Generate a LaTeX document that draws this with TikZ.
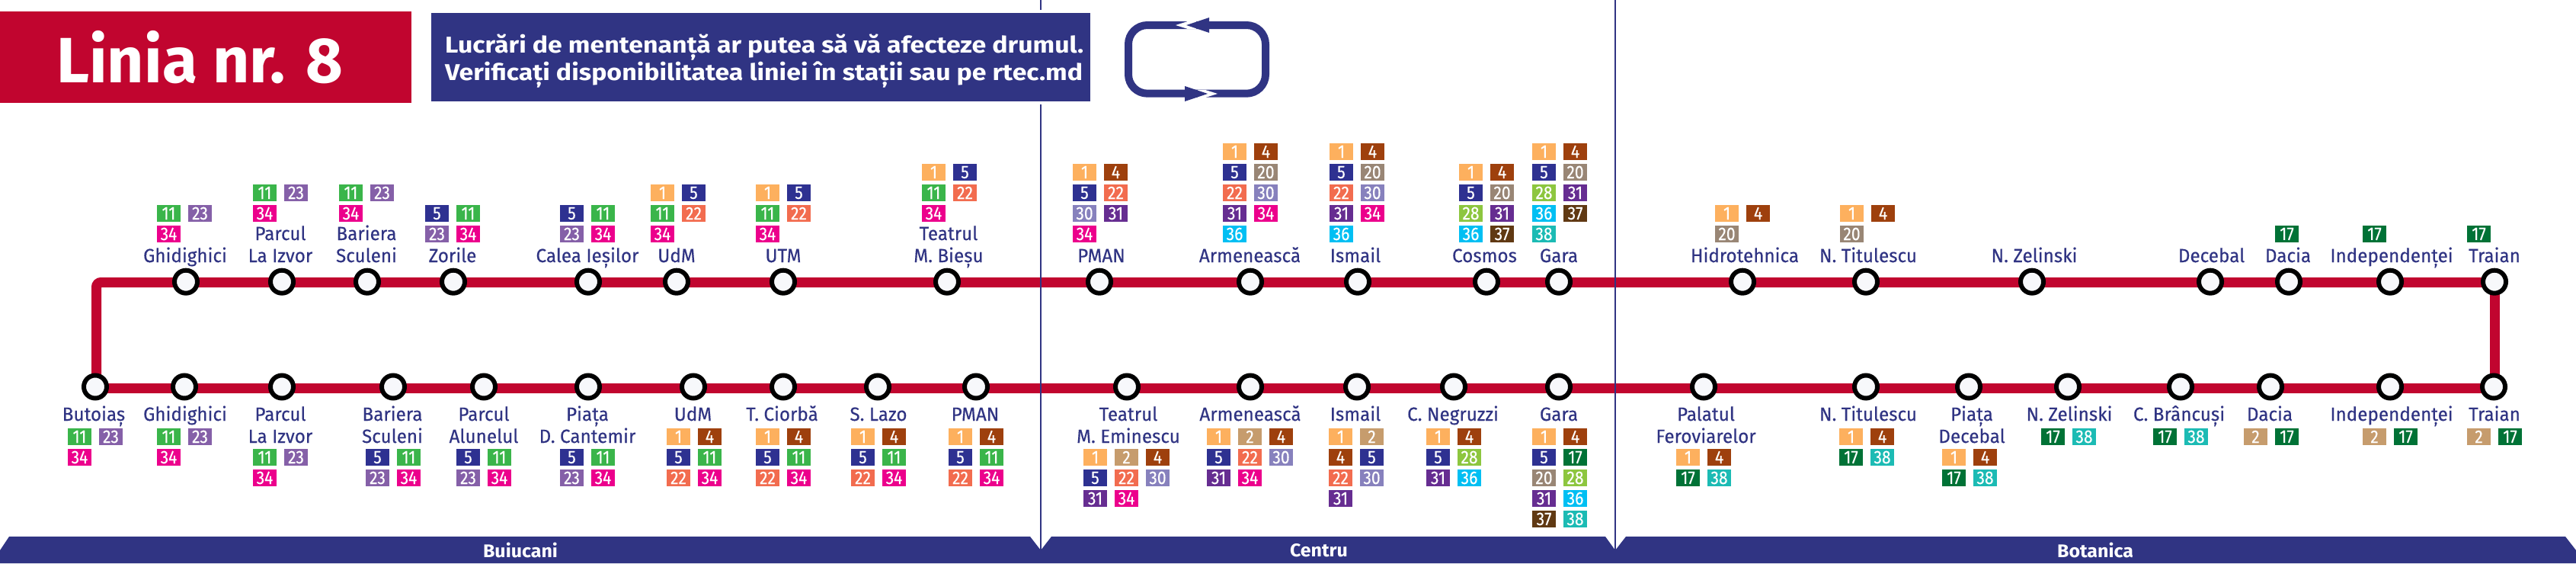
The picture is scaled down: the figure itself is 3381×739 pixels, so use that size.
\documentclass[tikz,border=0pt]{standalone}
\usepackage{fontspec}
\setmainfont{Fira Sans}
\newfontfamily\lblf[FakeStretch=0.97,FakeBold=0.3]{Fira Sans}
\newfontfamily\bdgf[FakeStretch=0.88,FakeBold=0.2]{Fira Sans}
\newfontfamily\zonef[FakeStretch=1.04]{Fira Sans}
\newfontfamily\titlef[FakeStretch=1.0]{Fira Sans}
\newfontfamily\noticef[FakeStretch=1.13]{Fira Sans}
\definecolor{railred}{HTML}{C1052F}
\definecolor{navy}{HTML}{303483}
\definecolor{stopfill}{HTML}{F7F8FB}
\definecolor{c1}{HTML}{FDB05E}
\definecolor{c2}{HTML}{C69C6D}
\definecolor{c4}{HTML}{9E400D}
\definecolor{c5}{HTML}{2E3191}
\definecolor{c11}{HTML}{3AB54A}
\definecolor{c17}{HTML}{007236}
\definecolor{c20}{HTML}{998675}
\definecolor{c22}{HTML}{F26C4F}
\definecolor{c23}{HTML}{8560A8}
\definecolor{c28}{HTML}{8DC63F}
\definecolor{c30}{HTML}{8781BD}
\definecolor{c31}{HTML}{662D91}
\definecolor{c34}{HTML}{EC008C}
\definecolor{c36}{HTML}{00BFF3}
\definecolor{c37}{HTML}{603913}
\definecolor{c38}{HTML}{1CBBB4}
\tikzset{
  rail/.style={draw=railred,line width=13pt,rounded corners=6pt},
  divider/.style={draw=navy,line width=1.8pt},
  stop/.style={circle,draw=black,fill=stopfill,line width=6pt,minimum size=30pt,inner sep=0pt},
  badge/.style={rectangle,minimum width=31pt,minimum height=22pt,inner sep=0pt,text=white,font=\bdgf\fontsize{24}{24}\selectfont},
  lbl/.style={inner sep=0pt,text=navy,align=center,font=\lblf\fontsize{25}{29}\selectfont},
  zone/.style={inner sep=0pt,text=white,font=\zonef\bfseries\fontsize{24}{24}\selectfont},
}
\newcounter{bn}
% x of left column, top y of the row, list of line numbers
\newcommand{\brow}[3]{\foreach \v [count=\i from 0] in {#3} {\stepcounter{bn}\node[badge,fill=c\v] (bd\thebn) at ({#1+41*\i+15.5},{#2+11}) {\v};}}
\begin{document}
\begin{tikzpicture}[x=1pt,y=-1pt]
\useasboundingbox (0,0) rectangle (3381,739);
\fill[white] (0,0) rectangle (3381,739);
% header
\node[rectangle,fill=railred,minimum width=540pt,minimum height=120pt,inner sep=0pt,anchor=north west] (title) at (0,15) {};
\node[anchor=base west,inner sep=0pt,text=white,font=\titlef\bfseries\fontsize{84}{84}\selectfont] (titletext) at (74,108) {Linia nr. 8};
\node[rectangle,fill=navy,minimum width=865pt,minimum height=116pt,inner sep=0pt,anchor=north west] (notice) at (566,17) {};
\node[anchor=base west,inner sep=0pt,text=white,align=left,font=\noticef\bfseries\fontsize{30}{36}\selectfont] (noticetext) at (584,105) {Lucrări de mentenanță ar putea să vă afecteze drumul.\\Verificați disponibilitatea liniei în stații sau pe rtec.md};
% loop icon
\draw[navy,line width=10pt,rounded corners=25pt] (1481,33) rectangle (1661,122.7);
\fill[white] (1543,33) -- (1559,28) -- (1570,28) -- (1570,38) -- (1559,38) -- cycle;
\fill[navy] (1557,33) -- (1587,23) -- (1587,43) -- cycle;
\fill[white] (1598,123) -- (1582,118) -- (1572,118) -- (1572,128) -- (1582,128) -- cycle;
\fill[navy] (1585,123) -- (1555,113) -- (1555,133) -- cycle;
% rail
\coordinate (cTL) at (126.5,370.5);
\coordinate (cTR) at (3274,370.5);
\coordinate (cBR) at (3274,509.5);
\coordinate (cBL) at (126.5,509.5);
\draw[rail] (cBL) -- (cTL) -- (cTR);
\draw[draw=railred,line width=13pt] (cTR) -- (cBR) -- (cBL);
% zone band and dividers
\fill[navy] (0,739) -- (0,722) -- (12,704) -- (1352,704) -- (1366,722) -- (1380,704) -- (2107,704) -- (2120,722) -- (2134,704) -- (3367,704) -- (3381,722) -- (3381,739) -- cycle;
\coordinate (d1a) at (1366,0);
\coordinate (d1b) at (1366,13);
\coordinate (d1c) at (1366,137);
\coordinate (d1d) at (1366,722);
\coordinate (d2a) at (2120,0);
\coordinate (d2b) at (2120,722);
\draw[divider] (d1a) -- (d1b);
\draw[divider] (d1c) -- (d1d);
\draw[divider] (d2a) -- (d2b);
\node[zone,anchor=center] (zB) at (683,722) {Buiucani};
\node[zone,anchor=center] (zC) at (1731,722) {Centru};
\node[zone,anchor=center] (zD) at (2750,722) {Botanica};
% top stops
\foreach \n/\x in {t1/244,t2/370,t3/482,t4/595,t5/772,t6/888,t7/1028,t8/1243,t9/1443,t10/1641,t11/1782,t12/1951,t13/2046,t14/2287,t15/2449,t16/2667,t17/2901,t18/3004,t19/3137,t20/3274}
  {\node[stop] (\n) at (\x,369.7) {};}
% bottom stops
\foreach \n/\x in {s1/125,s2/242,s3/370,s4/516,s5/635,s6/772,s7/910,s8/1028,s9/1152,s10/1281,s11/1479,s12/1641,s13/1781,s14/1908,s15/2046,s16/2236,s17/2449,s18/2584,s19/2714,s20/2862,s21/2980,s22/3137,s23/3273}
  {\node[stop] (\n) at (\x,507.5) {};}
% top labels
\foreach \n/\x/\t in {a1/243/Ghidighici,a4/594/Zorile,a5/771/Calea Ieșilor,a6/888/UdM,a7/1028/UTM,a9/1445.5/PMAN,a10/1640.5/Armenească,a11/1779/Ismail,a12/1948.5/Cosmos,a13/2046/Gara,a14/2290/Hidrotehnica,a15/2452/N. Titulescu,a16/2670/N. Zelinski,a17/2902.5/Decebal,a18/3003/Dacia,a19/3139/Independenței,a20/3274/Traian,a2/368/Parcul\\La Izvor,a3/481/Bariera\\Sculeni,a8/1245/Teatrul\\M. Bieșu}
  {\node[lbl,anchor=base] (\n) at (\x,344) {\t};}
% bottom labels
\foreach \n/\x/\t in {e1/123/Butoiaș,e2/243/Ghidighici,e7/909.5/UdM,e8/1026.5/T. Ciorbă,e9/1153/S. Lazo,e10/1280/PMAN,e12/1641/Armenească,e13/1779/Ismail,e14/1907/C. Negruzzi,e15/2046/Gara,e17/2452/N. Titulescu,e19/2716/N. Zelinski,e20/2860/C. Brâncuși,e21/2979/Dacia,e22/3139/Independenței,e23/3274/Traian}
  {\node[lbl,anchor=base] (\n) at (\x,552) {\t};}
\foreach \n/\x/\t in {e3/368/Parcul\\La Izvor,e4/515/Bariera\\Sculeni,e5/635/Parcul\\Alunelul,e6/771/Piața\\D. Cantemir,e11/1481/Teatrul\\M. Eminescu,e16/2239/Palatul\\Feroviarelor,e18/2588/Piața\\Decebal}
  {\node[lbl,anchor=base] (\n) at (\x,581) {\t};}
% top badges
\brow{206}{269}{11,23}\brow{206}{296}{34}
\brow{332}{242}{11,23}\brow{332}{269}{34}
\brow{445}{242}{11,23}\brow{445}{269}{34}
\brow{558}{269}{5,11}\brow{558}{296}{23,34}
\brow{735}{269}{5,11}\brow{735}{296}{23,34}
\brow{854}{242}{1,5}\brow{854}{269}{11,22}\brow{854}{296}{34}
\brow{992}{242}{1,5}\brow{992}{269}{11,22}\brow{992}{296}{34}
\brow{1210}{215}{1,5}\brow{1210}{242}{11,22}\brow{1210}{269}{34}
\brow{1408}{215}{1,4}\brow{1408}{242}{5,22}\brow{1408}{269}{30,31}\brow{1408}{296}{34}
\brow{1605}{188}{1,4}\brow{1605}{215}{5,20}\brow{1605}{242}{22,30}\brow{1605}{269}{31,34}\brow{1605}{296}{36}
\brow{1745}{188}{1,4}\brow{1745}{215}{5,20}\brow{1745}{242}{22,30}\brow{1745}{269}{31,34}\brow{1745}{296}{36}
\brow{1915}{215}{1,4}\brow{1915}{242}{5,20}\brow{1915}{269}{28,31}\brow{1915}{296}{36,37}
\brow{2011}{188}{1,4}\brow{2011}{215}{5,20}\brow{2011}{242}{28,31}\brow{2011}{269}{36,37}\brow{2011}{296}{38}
\brow{2251}{269}{1,4}\brow{2251}{296}{20}
\brow{2415}{269}{1,4}\brow{2415}{296}{20}
\brow{2986}{296}{17}
\brow{3101}{296}{17}
\brow{3238}{296}{17}
% bottom badges
\brow{89}{562}{11,23}\brow{89}{589}{34}
\brow{206}{562}{11,23}\brow{206}{589}{34}
\brow{332}{589}{11,23}\brow{332}{616}{34}
\brow{480}{589}{5,11}\brow{480}{616}{23,34}
\brow{599}{589}{5,11}\brow{599}{616}{23,34}
\brow{735}{589}{5,11}\brow{735}{616}{23,34}
\brow{875}{562}{1,4}\brow{875}{589}{5,11}\brow{875}{616}{22,34}
\brow{992}{562}{1,4}\brow{992}{589}{5,11}\brow{992}{616}{22,34}
\brow{1117}{562}{1,4}\brow{1117}{589}{5,11}\brow{1117}{616}{22,34}
\brow{1245}{562}{1,4}\brow{1245}{589}{5,11}\brow{1245}{616}{22,34}
\brow{1422}{589}{1,2,4}\brow{1422}{616}{5,22,30}\brow{1422}{643}{31,34}
\brow{1584}{562}{1,2,4}\brow{1584}{589}{5,22,30}\brow{1584}{616}{31,34}
\brow{1744}{562}{1,2}\brow{1744}{589}{4,5}\brow{1744}{616}{22,30}\brow{1744}{643}{31}
\brow{1872}{562}{1,4}\brow{1872}{589}{5,28}\brow{1872}{616}{31,36}
\brow{2011}{562}{1,4}\brow{2011}{589}{5,17}\brow{2011}{616}{20,28}\brow{2011}{643}{31,36}\brow{2011}{670}{37,38}
\brow{2200}{589}{1,4}\brow{2200}{616}{17,38}
\brow{2414}{562}{1,4}\brow{2414}{589}{17,38}
\brow{2549}{589}{1,4}\brow{2549}{616}{17,38}
\brow{2679}{562}{17,38}
\brow{2826}{562}{17,38}
\brow{2945}{562}{2,17}
\brow{3101}{562}{2,17}
\brow{3238}{562}{2,17}
\end{tikzpicture}
\end{document}
